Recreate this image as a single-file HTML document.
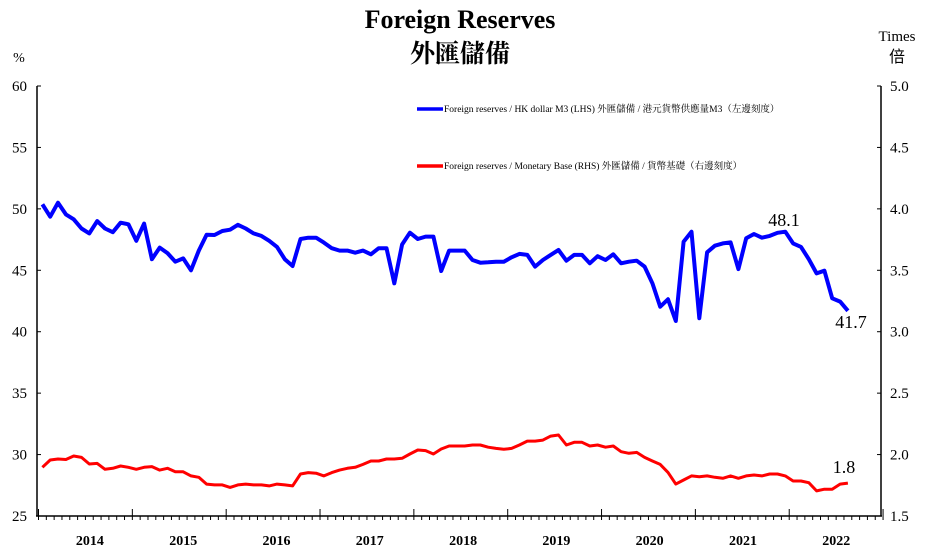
<!DOCTYPE html>
<html><head><meta charset="utf-8">
<style>
body{margin:0;background:#fff;}
svg{display:block;font-family:"Liberation Serif","Noto Serif CJK SC","Noto Sans CJK TC",serif;}
</style></head>
<body>
<svg id="chart" width="931" height="558" viewBox="0 0 931 558" xmlns="http://www.w3.org/2000/svg">
<text x="460" y="28" text-anchor="middle" font-size="26" font-weight="bold">Foreign Reserves</text>
<text x="460" y="62" text-anchor="middle" font-size="25" font-weight="bold" font-family="Noto Serif CJK SC, Noto Sans CJK TC, serif">外匯儲備</text>
<text x="19" y="62" text-anchor="middle" font-size="14">%</text>
<text x="897" y="41" text-anchor="middle" font-size="15">Times</text>
<text x="897" y="62" text-anchor="middle" font-size="16" font-family="Noto Sans CJK TC, sans-serif">倍</text>
<g id="axes"></g>
<g id="series"></g>
<g>
<line x1="417" y1="109" x2="443" y2="109" stroke="#0000ff" stroke-width="3.5"/>
<text x="444" y="112" font-size="9.5">Foreign reserves / HK dollar M3 (LHS) 外匯儲備 / 港元貨幣供應量M3（左邊刻度）</text>
<line x1="417" y1="166" x2="443" y2="166" stroke="#ff0000" stroke-width="3.5"/>
<text x="444" y="169" font-size="9.5">Foreign reserves / Monetary Base (RHS) 外匯儲備 / 貨幣基礎（右邊刻度）</text>
</g>
<text x="784" y="226" text-anchor="middle" font-size="18">48.1</text>
<text x="851" y="328" text-anchor="middle" font-size="18">41.7</text>
<text x="844" y="473" text-anchor="middle" font-size="18">1.8</text>
</svg>
<script>
const years = ["2014","2015","2016","2017","2018","2019","2020","2021","2022"];
const leftTicks = [25,30,35,40,45,50,55,60];
const rightTicks = ["1.5","2.0","2.5","3.0","3.5","4.0","4.5","5.0"];
const m3Ratio = [50.37,49.36,50.5,49.55,49.15,48.4,48.0,49.0,48.4,48.1,48.87,48.74,47.4,48.8,45.9,46.85,46.4,45.7,45.97,45.0,46.6,47.9,47.87,48.2,48.3,48.7,48.4,48.0,47.8,47.4,46.9,45.9,45.35,47.55,47.65,47.65,47.25,46.8,46.6,46.6,46.43,46.6,46.3,46.8,46.8,43.94,47.1,48.06,47.55,47.74,47.74,44.94,46.6,46.6,46.6,45.84,45.62,45.65,45.7,45.7,46.06,46.33,46.25,45.3,45.84,46.25,46.65,45.78,46.25,46.25,45.57,46.15,45.84,46.3,45.57,45.7,45.78,45.3,43.94,42.04,42.64,40.87,47.33,48.14,41.1,46.46,47.0,47.19,47.27,45.1,47.6,47.95,47.65,47.8,48.05,48.14,47.19,46.9,45.9,44.75,44.97,42.72,42.45,41.7];
const mbRatio = [1.896,1.956,1.964,1.96,1.988,1.977,1.923,1.928,1.88,1.888,1.907,1.896,1.88,1.896,1.902,1.874,1.888,1.86,1.86,1.826,1.815,1.76,1.753,1.753,1.733,1.753,1.76,1.753,1.753,1.745,1.76,1.753,1.745,1.842,1.853,1.848,1.826,1.853,1.874,1.888,1.896,1.92,1.948,1.948,1.964,1.964,1.97,2.005,2.037,2.032,2.005,2.045,2.07,2.07,2.07,2.078,2.078,2.06,2.05,2.043,2.05,2.078,2.11,2.11,2.118,2.15,2.159,2.078,2.1,2.1,2.07,2.078,2.06,2.07,2.023,2.01,2.018,1.977,1.948,1.92,1.855,1.76,1.793,1.826,1.82,1.826,1.815,1.807,1.826,1.807,1.826,1.834,1.826,1.842,1.842,1.826,1.785,1.785,1.771,1.704,1.718,1.718,1.76,1.768];

const NS="http://www.w3.org/2000/svg";
const X0=38.5, MW=7.82, YT=86, YB=516, XL=37, XR=881;
const xM = i => X0 + (i+0.5)*MW;
const xB = m => X0 + m*MW;
const yL = v => YB - (v-25)/35*(YB-YT);
const yR = v => YB - (v-1.5)/3.5*(YB-YT);
function mk(tag, attrs, parent){const e=document.createElementNS(NS,tag);for(const k in attrs)e.setAttribute(k,attrs[k]);parent.appendChild(e);return e;}
const axes=document.getElementById('axes'), series=document.getElementById('series');

let e;
e=mk('line',{x1:XL,y1:YT,x2:XL,y2:YB,stroke:'#000','stroke-width':1.5},axes);


e=mk('line',{x1:XR,y1:YT,x2:XR,y2:YB,stroke:'#000','stroke-width':1.5},axes);


e=mk('line',{x1:XL-1,y1:YB,x2:XR+1,y2:YB,stroke:'#000','stroke-width':1.5},axes);



leftTicks.forEach(v=>{
  const y=yL(v);
  e=mk('line',{x1:XL,y1:y,x2:XL+4,y2:y,stroke:'#000','stroke-width':1},axes);
  
  
  e=mk('text',{x:27,y:y+5,'text-anchor':'end','font-size':15},axes);
  e.textContent=v;
  
  
});
rightTicks.forEach(v=>{
  const y=yR(parseFloat(v));
  e=mk('line',{x1:XR-4,y1:y,x2:XR,y2:y,stroke:'#000','stroke-width':1},axes);
  
  
  e=mk('text',{x:890,y:y+5,'font-size':15},axes);
  e.textContent=v;
  
  
});
const nMonths = years.length*12;
for(let m=0;m<=nMonths;m++){
  const x=xB(m), major=m%12===0;
  e=mk('line',{x1:x,y1:major?YB-7:YB,x2:x,y2:YB+4,stroke:'#000','stroke-width':1},axes);
  
  
}
years.forEach((yr,i)=>{
  e=mk('text',{x:xB(i*12+6)+4.5-i*0.55,y:545,'text-anchor':'middle','font-size':14,'font-weight':'bold'},axes);
  e.textContent=yr;
  
  
});
e=mk('polyline',{points:m3Ratio.map((v,i)=>xM(i).toFixed(1)+','+yL(v).toFixed(1)).join(' '),fill:'none',stroke:'#0000ff','stroke-width':4,'stroke-linejoin':'round'},series);


e=mk('polyline',{points:mbRatio.map((v,i)=>xM(i).toFixed(1)+','+yR(v).toFixed(1)).join(' '),fill:'none',stroke:'#ff0000','stroke-width':3,'stroke-linejoin':'round'},series);


</script>
</body></html>
